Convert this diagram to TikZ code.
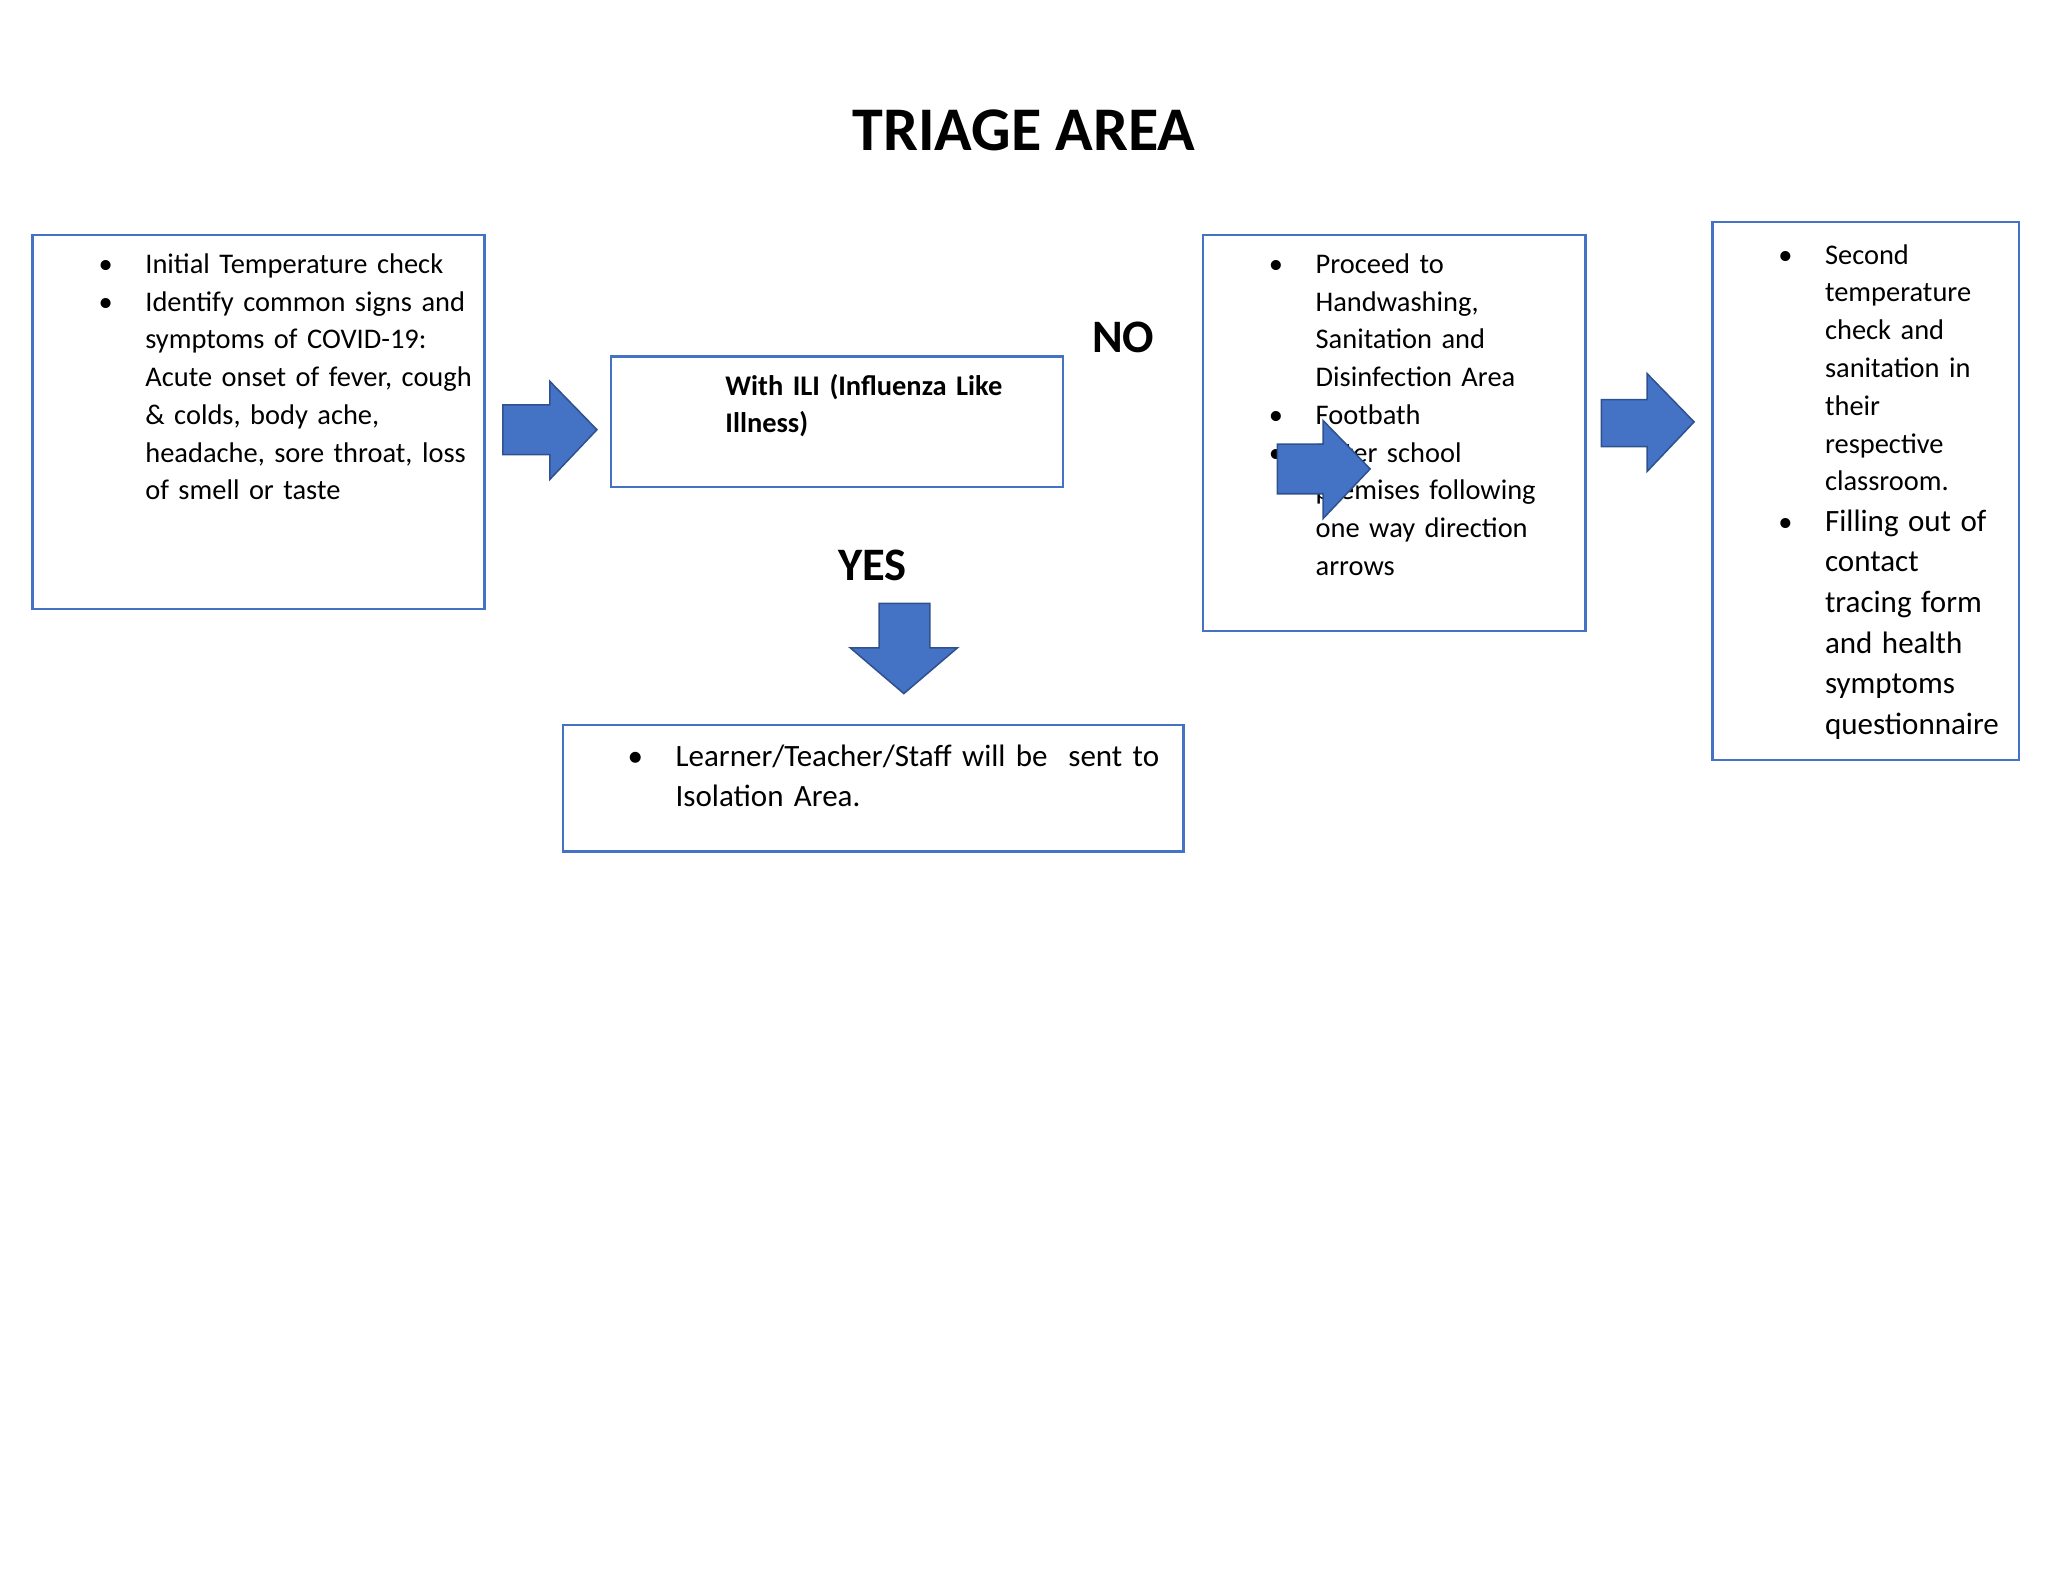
\documentclass[tikz,border=0pt]{standalone}
\usepackage{fontspec}
\setmainfont{Carlito}
\usetikzlibrary{fit}

\definecolor{boxblue}{HTML}{4472C4}
\definecolor{arrowedge}{HTML}{2F528F}

\newenvironment{blist}{\begin{list}{\textbullet}{%
  \setlength\leftmargin{15.6pt}\setlength\labelwidth{6pt}%
  \setlength\labelsep{12.6pt}\setlength\itemsep{0pt}\setlength\parsep{0pt}%
  \setlength\topsep{0pt}\setlength\partopsep{0pt}}}{\end{list}}

\tikzset{
  box/.style={draw=boxblue, line width=0.9pt, inner sep=0pt},
  txt/.style={anchor=north west, inner sep=0pt, align=left, text width=#1,
    font=\fontsize{11}{14.6}\selectfont},
  txt/.default=170pt,
  blockarrow/.style={fill=boxblue, draw=arrowedge, line width=0.6pt, line join=miter},
  answer/.style={font=\fontsize{18}{21}\selectfont\bfseries, inner sep=0pt}
}

\begin{document}
\begin{tikzpicture}[x=0.5051pt, y=-0.5051pt]
		\useasboundingbox (0,0) rectangle (1568,1211);

		\node (title) at (784,100) {\fontsize{24}{28}\selectfont\bfseries TRIAGE AREA};

		% boxes
		\node (check) [box, fit={(25,180) (371,466)}] {};
		\node (ili) [box, fit={(468,273) (814,373)}] {};
		\node (isol) [box, fit={(431,555) (906,652)}] {};
		\node (wash) [box, fit={(921,180) (1214,483)}] {};
		\node (second) [box, fit={(1311,170) (1546,582)}] {};

		% texts
		\node (checktxt) [txt] at (80,180) {\begin{blist}
			\item Initial Temperature check
			\item Identify common signs and\\ symptoms of COVID-19:\\ Acute onset of fever, cough\\ \& colds, body ache,\\ headache, sore throat, loss\\ of smell or taste
		\end{blist}};
		\node (ilitxt) [txt, font=\fontsize{11}{14.6}\selectfont\bfseries] at (555,286) {With ILI (Influenza Like\\ Illness)};
		\node (isoltxt) [txt=250pt, font=\fontsize{12}{15.7}\selectfont] at (486,555) {\begin{blist}
			\item Learner/Teacher/Staff will be\ \ sent to\\ Isolation Area.
		\end{blist}};
		\node (washtxt) [txt] at (976,180) {\begin{blist}
			\item Proceed to\\ Handwashing,\\ Sanitation and\\ Disinfection Area
			\item Footbath
			\item Enter school\\ premises following\\ one way direction\\ arrows
		\end{blist}};
		\node (secondtxt) [txt=120pt] at (1366,173) {\begin{blist}
			\item Second\\ temperature\\ check and\\ sanitation in\\ their\\ respective\\ classroom.
			\item {\fontsize{12}{15.7}\selectfont Filling out of\\ contact\\ tracing form\\ and health\\ symptoms\\ questionnaire\par}
		\end{blist}};

		\node (no) [answer] at (860,258) {NO};
		\node (yes) [answer] at (668,433) {YES};

		% block arrows
		\draw[blockarrow] (385,310) -- (421,310) -- (421,292) -- (457,329) -- (421,367) -- (421,348) -- (385,348) -- cycle;
		\draw[blockarrow] (978,340) -- (1013,340) -- (1013,322) -- (1049,359) -- (1013,397) -- (1013,378) -- (978,378) -- cycle;
		\draw[blockarrow] (1226,306) -- (1261,306) -- (1261,286) -- (1297,323) -- (1261,361) -- (1261,342) -- (1226,342) -- cycle;
		\draw[blockarrow] (673,462) -- (712,462) -- (712,496) -- (733,496) -- (692,531) -- (651,496) -- (673,496) -- cycle;
	\end{tikzpicture}
\end{document}
